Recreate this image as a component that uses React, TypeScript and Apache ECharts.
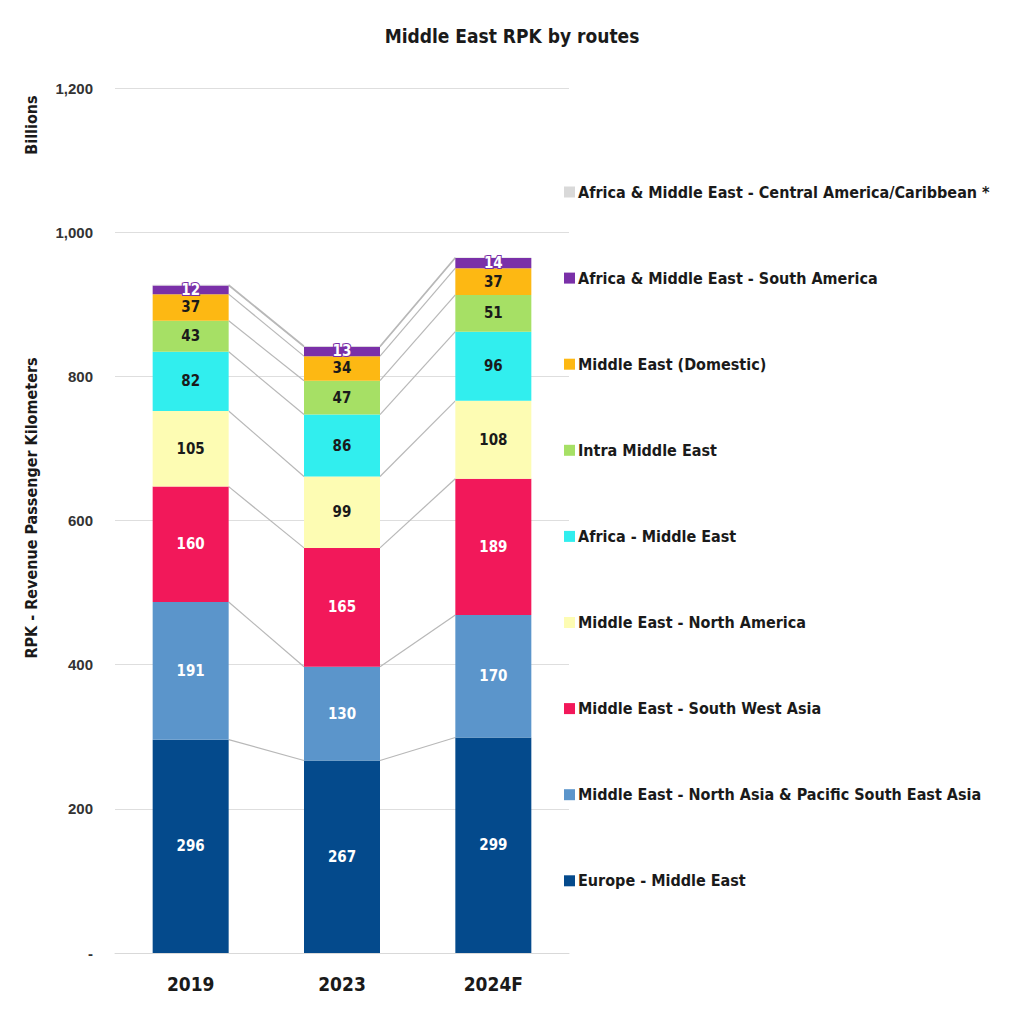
import React, { useEffect, useRef } from "react";
import * as echarts from "echarts";

const years = ["2019", "2023", "2024F"];

const seriesNames = [
  "Europe - Middle East",
  "Middle East - North Asia & Pacific South East Asia",
  "Middle East - South West Asia",
  "Middle East - North America",
  "Africa - Middle East",
  "Intra Middle East",
  "Middle East (Domestic)",
  "Africa & Middle East - South America",
  "Africa & Middle East - Central America/Caribbean *",
];

const europe = [296, 267, 299];
const northAsia = [191, 130, 170];
const southWestAsia = [160, 165, 189];
const northAmerica = [105, 99, 108];
const africa = [82, 86, 96];
const intraME = [43, 47, 51];
const domestic = [37, 34, 37];
const southAmerica = [12, 13, 14];
const centralAmerica = [1, 1, 1];

const seriesValues = [
  europe,
  northAsia,
  southWestAsia,
  northAmerica,
  africa,
  intraME,
  domestic,
  southAmerica,
  centralAmerica,
];

const colors = [
  "#044a8c",
  "#5b95cb",
  "#f2185a",
  "#fdfcb3",
  "#31eeee",
  "#a6e065",
  "#fdb813",
  "#7a30a8",
  "#d9d9d9",
];

const labelColors = [
  "#ffffff",
  "#ffffff",
  "#ffffff",
  "#1a1a1a",
  "#1a1a1a",
  "#1a1a1a",
  "#1a1a1a",
  "#ffffff",
  "#1a1a1a",
];

const yTicks = [0, 200, 400, 600, 800, 1000, 1200];

const COND = "'DejaVu Sans Condensed', sans-serif";
const BAR_W = 76;

export default function App() {
  const ref = useRef<HTMLDivElement>(null);

  useEffect(() => {
    if (!ref.current) return;
    const chart = echarts.init(ref.current, null, { renderer: "svg" });

    // cumulative boundaries for the connector lines between neighbouring bars
    const connectors: number[][] = [];
    const cum = years.map(() => 0);
    seriesValues.forEach((vals) => {
      vals.forEach((v, i) => (cum[i] += v));
      for (let i = 0; i < years.length - 1; i++) {
        connectors.push([i, cum[i], cum[i + 1]]);
      }
    });

    const barSeries = seriesNames.map((name, idx) => ({
      name,
      type: "bar",
      stack: "total",
      barWidth: BAR_W,
      data: seriesValues[idx],
      itemStyle: { color: colors[idx] },
      label: {
        show: idx < 8,
        position: "inside",
        color: labelColors[idx],
        fontFamily: COND,
        fontWeight: "bold",
        fontSize: 15,
        ...(idx === 7
          ? { textBorderColor: "#7a30a8", textBorderWidth: 2 }
          : {}),
      },
      z: 3,
    }));

    const option = {
      animation: false,
      backgroundColor: "#ffffff",
      color: colors,
      title: {
        text: "Middle East RPK by routes",
        left: "center",
        top: 13,
        textStyle: {
          fontFamily: COND,
          fontWeight: "bold",
          fontSize: 19,
          color: "#1a1a1a",
        },
      },
      legend: {
        orient: "vertical",
        left: 551,
        top: 171,
        itemGap: 70.1,
        itemWidth: 11,
        itemHeight: 11,
        icon: "rect",
        data: [...seriesNames].reverse(),
        textStyle: {
          fontFamily: COND,
          fontWeight: "bold",
          fontSize: 16,
          color: "#1a1a1a",
          padding: [0, 0, 0, -2],
        },
      },
      grid: { left: 107, right: 447, top: 80, bottom: 56 },
      xAxis: {
        type: "category",
        data: years,
        axisTick: { show: false },
        axisLine: { lineStyle: { color: "#d9d9d9" } },
        axisLabel: {
          fontFamily: COND,
          fontWeight: "bold",
          fontSize: 19,
          color: "#1a1a1a",
          margin: 21,
        },
      },
      yAxis: {
        type: "value",
        min: yTicks[0],
        max: yTicks[yTicks.length - 1],
        interval: 200,
        axisLine: { show: false },
        axisTick: { show: false },
        splitLine: { lineStyle: { color: "#dedede" } },
        axisLabel: {
          fontFamily: "'Liberation Sans', Arial, sans-serif",
          fontWeight: "bold",
          fontSize: 15,
          color: "#333333",
          margin: 22,
          formatter: (v: number) => (v === 0 ? "-" : v.toLocaleString("en-US")),
        },
      },
      graphic: [
        {
          type: "text",
          x: 23,
          y: 117,
          rotation: Math.PI / 2,
          style: {
            text: "Billions",
            fontFamily: COND,
            fontWeight: "bold",
            fontSize: 16,
            fill: "#1a1a1a",
            align: "center",
            verticalAlign: "middle",
          },
        },
        {
          type: "text",
          x: 23,
          y: 500,
          rotation: Math.PI / 2,
          style: {
            text: "RPK - Revenue Passenger Kilometers",
            fontFamily: COND,
            fontWeight: "bold",
            fontSize: 16,
            fill: "#1a1a1a",
            align: "center",
            verticalAlign: "middle",
          },
        },
      ],
      series: [
        ...barSeries,
        {
          type: "custom",
          silent: true,
          z: 2,
          data: connectors,
          renderItem: (_params: any, api: any) => {
            const i = api.value(0);
            const p1 = api.coord([i, api.value(1)]);
            const p2 = api.coord([i + 1, api.value(2)]);
            return {
              type: "line",
              shape: {
                x1: p1[0] + BAR_W / 2,
                y1: p1[1],
                x2: p2[0] - BAR_W / 2,
                y2: p2[1],
              },
              style: { stroke: "#b8b8b8", lineWidth: 1.2 },
            };
          },
        },
      ],
    };

    chart.setOption(option as any);
    return () => chart.dispose();
  }, []);

  return <div ref={ref} style={{ width: 1008, height: 1001 }} />;
}
